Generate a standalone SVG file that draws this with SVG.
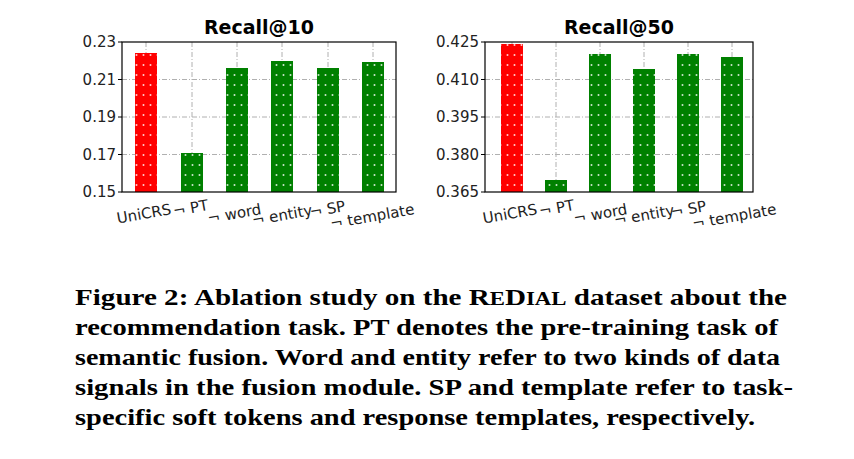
<svg xmlns="http://www.w3.org/2000/svg" width="854" height="459" viewBox="0 0 854 459">
<defs>
<pattern id="dots" width="7" height="10" patternUnits="userSpaceOnUse"><circle cx="3.5" cy="5" r="1" fill="#fff" opacity="0.8"/></pattern>
</defs>
<style>
.t{font-family:"DejaVu Sans",sans-serif;font-size:15px;fill:#222}
.ti{font-family:"DejaVu Sans",sans-serif;font-size:19px;font-weight:bold;fill:#000}
.g{stroke:#b0b0b0;stroke-width:1;stroke-dasharray:5,2,1,2;fill:none}
.ax{fill:none;stroke:#000;stroke-width:1.2}
.r{fill:#ff0000}.gr{fill:#008000}
.c{font-family:"Liberation Serif",serif;font-size:23px;font-weight:bold;fill:#000}
</style>
<rect width="854" height="459" fill="#fff"/>
<g id="chart1">
<text class="ti" x="259" y="34" text-anchor="middle">Recall@10</text>
<g class="g"><path d="M122 79.5H396M122 117H396M122 154.5H396M146 42V192M192 42V192M237 42V192M282 42V192M328 42V192M373 42V192"/></g>
<rect class="r" x="135" y="53" width="22" height="139"/><rect fill="url(#dots)" x="135" y="53" width="22" height="139"/>
<rect class="gr" x="181" y="153" width="22" height="39"/><rect fill="url(#dots)" x="181" y="153" width="22" height="39"/>
<rect class="gr" x="226" y="68" width="22" height="124"/><rect fill="url(#dots)" x="226" y="68" width="22" height="124"/>
<rect class="gr" x="271" y="61" width="22" height="131"/><rect fill="url(#dots)" x="271" y="61" width="22" height="131"/>
<rect class="gr" x="317" y="68" width="22" height="124"/><rect fill="url(#dots)" x="317" y="68" width="22" height="124"/>
<rect class="gr" x="362" y="62" width="22" height="130"/><rect fill="url(#dots)" x="362" y="62" width="22" height="130"/>
<rect class="ax" x="122" y="42" width="274" height="150"/>
<path d="M118 42h4M118 79.5h4M118 117h4M118 154.5h4M118 192h4" stroke="#000"/>
<g class="t" text-anchor="end"><text x="116" y="47">0.23</text><text x="116" y="84.5">0.21</text><text x="116" y="122">0.19</text><text x="116" y="159.5">0.17</text><text x="116" y="197">0.15</text></g>
<g class="t" text-anchor="end">
<text transform="translate(172,214) rotate(-10)">UniCRS</text>
<text transform="translate(209,210) rotate(-10)">¬ PT</text>
<text transform="translate(262,214) rotate(-10)">¬ word</text>
<text transform="translate(313,215) rotate(-10)">¬ entity</text>
<text transform="translate(346,211) rotate(-10)">¬ SP</text>
<text transform="translate(415,214) rotate(-10)">¬ template</text>
</g>
</g>
<g id="chart2">
<text class="ti" x="619" y="34" text-anchor="middle">Recall@50</text>
<g class="g"><path d="M485 79.5H753M485 117H753M485 154.5H753M512 42V192M556 42V192M600 42V192M644 42V192M688 42V192M732 42V192"/></g>
<rect class="r" x="501" y="44" width="22" height="148"/><rect fill="url(#dots)" x="501" y="44" width="22" height="148"/>
<rect class="gr" x="545" y="180" width="22" height="12"/><rect fill="url(#dots)" x="545" y="180" width="22" height="12"/>
<rect class="gr" x="589" y="54" width="22" height="138"/><rect fill="url(#dots)" x="589" y="54" width="22" height="138"/>
<rect class="gr" x="633" y="69" width="22" height="123"/><rect fill="url(#dots)" x="633" y="69" width="22" height="123"/>
<rect class="gr" x="677" y="54" width="22" height="138"/><rect fill="url(#dots)" x="677" y="54" width="22" height="138"/>
<rect class="gr" x="721" y="57" width="22" height="135"/><rect fill="url(#dots)" x="721" y="57" width="22" height="135"/>
<rect class="ax" x="485" y="42" width="268" height="150"/>
<path d="M481 42h4M481 79.5h4M481 117h4M481 154.5h4M481 192h4" stroke="#000"/>
<g class="t" text-anchor="end"><text x="479" y="47">0.425</text><text x="479" y="84.5">0.410</text><text x="479" y="122">0.395</text><text x="479" y="159.5">0.380</text><text x="479" y="197">0.365</text></g>
<g class="t" text-anchor="end">
<text transform="translate(538,214) rotate(-10)">UniCRS</text>
<text transform="translate(575,210) rotate(-10)">¬ PT</text>
<text transform="translate(628,214) rotate(-10)">¬ word</text>
<text transform="translate(675,215) rotate(-10)">¬ entity</text>
<text transform="translate(707,211) rotate(-10)">¬ SP</text>
<text transform="translate(777,214) rotate(-10)">¬ template</text>
</g>
</g>
<g id="caption" class="c">
<text x="75" y="305" textLength="712" lengthAdjust="spacingAndGlyphs">Figure 2: Ablation study on the R<tspan font-size="18">E</tspan>D<tspan font-size="18">IAL</tspan> dataset about the</text>
<text x="75" y="335" textLength="703" lengthAdjust="spacingAndGlyphs">recommendation task. PT denotes the pre-training task of</text>
<text x="75" y="365" textLength="705" lengthAdjust="spacingAndGlyphs">semantic fusion. Word and entity refer to two kinds of data</text>
<text x="75" y="395" textLength="718" lengthAdjust="spacingAndGlyphs">signals in the fusion module. SP and template refer to task-</text>
<text x="75" y="425" textLength="680" lengthAdjust="spacingAndGlyphs">specific soft tokens and response templates, respectively.</text>
</g>
</svg>
